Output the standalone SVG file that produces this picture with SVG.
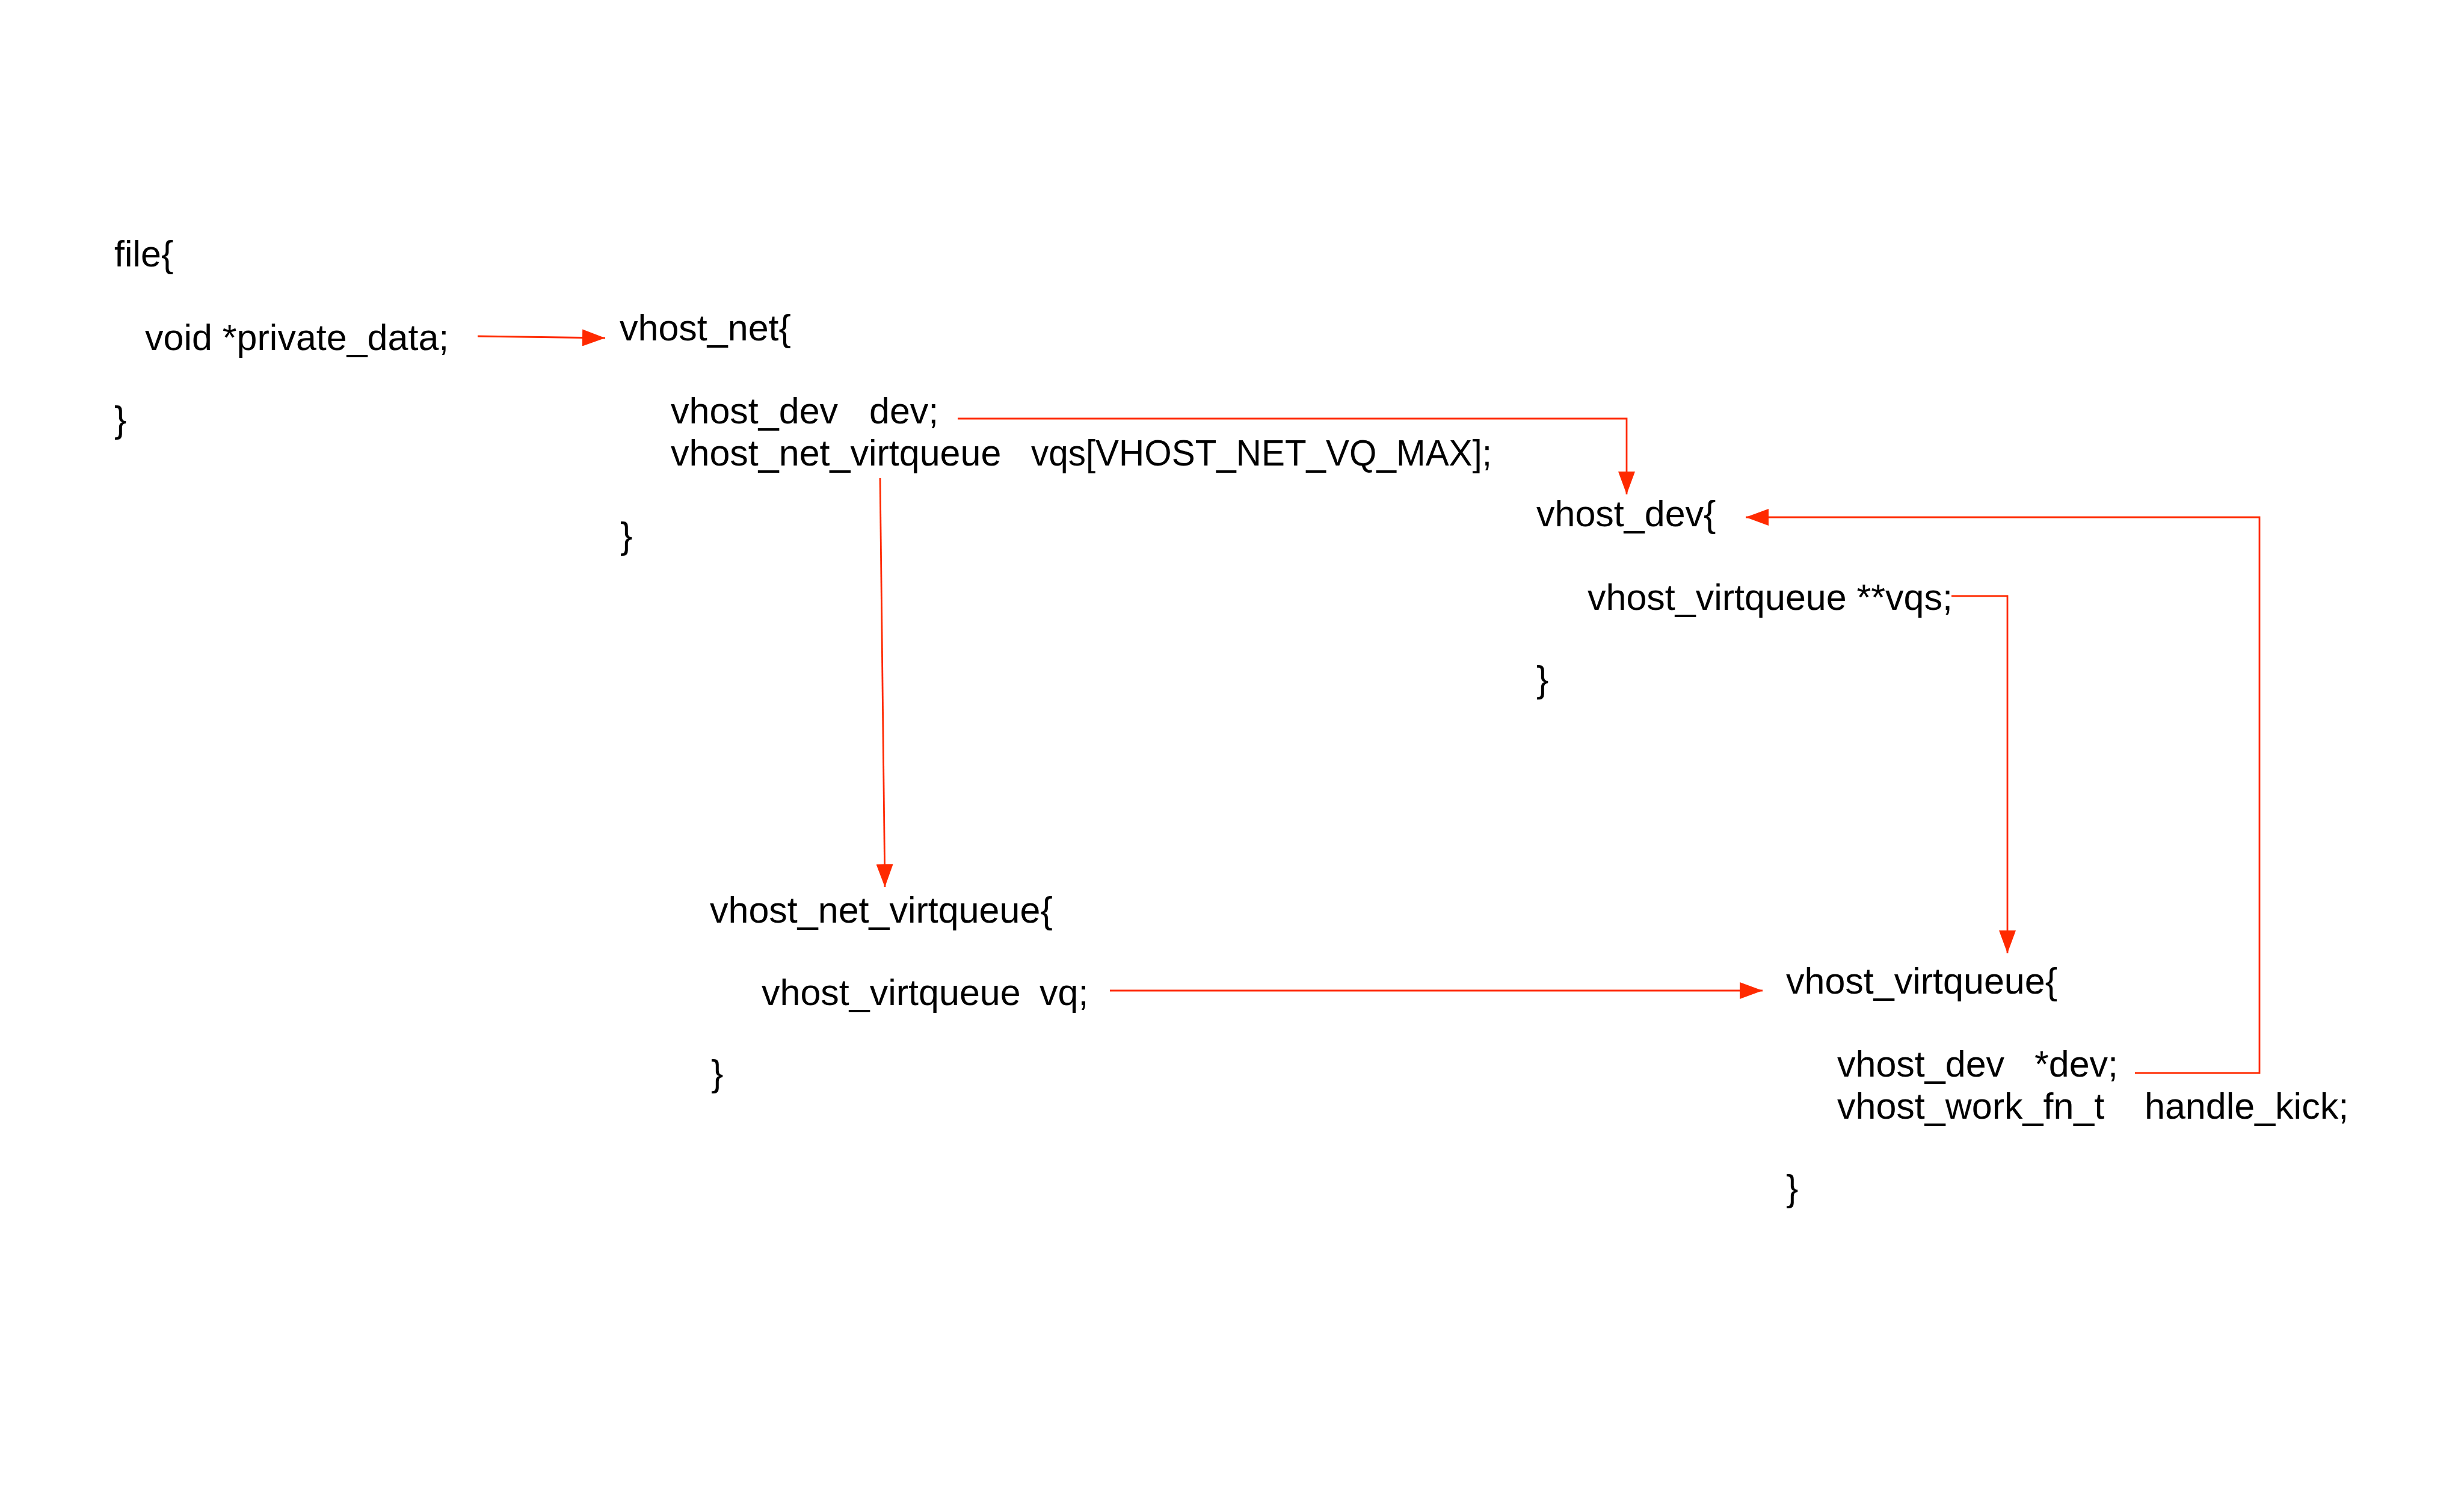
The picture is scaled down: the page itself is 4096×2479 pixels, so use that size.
<svg xmlns="http://www.w3.org/2000/svg" width="4096" height="2479" viewBox="0 0 4096 2479">
<style>
text{font-family:"Liberation Sans",Arial,Helvetica,sans-serif;font-size:61px;fill:#000}
.c{fill:none;stroke:#FF2A00;stroke-width:2.8}
</style>
<defs>
<marker id="ah" markerUnits="userSpaceOnUse" markerWidth="38" markerHeight="28" refX="38" refY="14" orient="auto" viewBox="0 0 38 28">
<path d="M0,0 L38,14 L0,28 z" fill="#FF2A00"/>
</marker>
</defs>
<rect width="4096" height="2479" fill="#fff"/>
<g id="file">
<text x="190" y="443">file{</text>
<text x="241" y="582">void *private_data;</text>
<text x="190" y="718">}</text>
</g>
<g id="vhost_net">
<text x="1030" y="566">vhost_net{</text>
<text y="704"><tspan x="1115">vhost_dev</tspan><tspan x="1445">dev;</tspan></text>
<text y="774"><tspan x="1115">vhost_net_virtqueue</tspan><tspan x="1714" textLength="766" lengthAdjust="spacingAndGlyphs">vqs[VHOST_NET_VQ_MAX];</tspan></text>
<text x="1031" y="911">}</text>
</g>
<g id="vhost_dev">
<text x="2554" y="875">vhost_dev{</text>
<text x="2639" y="1014">vhost_virtqueue **vqs;</text>
<text x="2554" y="1150">}</text>
</g>
<g id="vhost_net_virtqueue">
<text x="1180" y="1534">vhost_net_virtqueue{</text>
<text y="1671"><tspan x="1266">vhost_virtqueue</tspan><tspan x="1728">vq;</tspan></text>
<text x="1182" y="1805">}</text>
</g>
<g id="vhost_virtqueue">
<text x="2969" y="1652">vhost_virtqueue{</text>
<text y="1790"><tspan x="3054">vhost_dev</tspan><tspan x="3382">*dev;</tspan></text>
<text y="1860"><tspan x="3054">vhost_work_fn_t</tspan><tspan x="3565">handle_kick;</tspan></text>
<text x="2969" y="1996">}</text>
</g>
<g id="connectors">
<path class="c" d="M794,559 L1006,562" marker-end="url(#ah)"/>
<path class="c" d="M1592,696 L2704,696 L2704,822" marker-end="url(#ah)"/>
<path class="c" d="M1463,795 L1471,1475" marker-end="url(#ah)"/>
<path class="c" d="M3244,991 L3337,991 L3337,1585" marker-end="url(#ah)"/>
<path class="c" d="M1845,1647 L2930,1647" marker-end="url(#ah)"/>
<path class="c" d="M3549,1784 L3756,1784 L3756,860 L2902,860" marker-end="url(#ah)"/>
</g>
</svg>
